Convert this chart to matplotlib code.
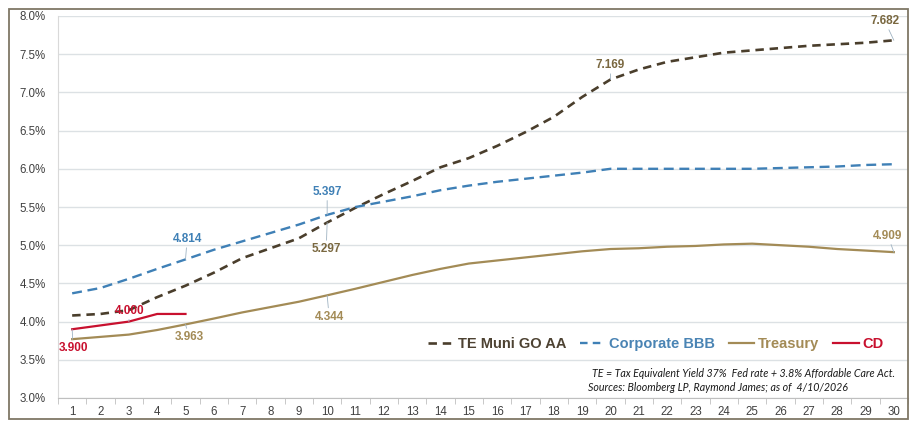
import numpy as np
import matplotlib.pyplot as plt
from matplotlib.patches import Rectangle
from matplotlib.lines import Line2D
from matplotlib.ticker import FuncFormatter

# maturity in years (categorical axis 1..30)
years = list(range(1, 31))

muni = [4.08, 4.10, 4.15, 4.32, 4.47, 4.64, 4.83, 4.96, 5.09, 5.297,
        5.49, 5.67, 5.84, 6.02, 6.14, 6.30, 6.48, 6.68, 6.94, 7.169,
        7.30, 7.40, 7.46, 7.52, 7.55, 7.58, 7.61, 7.63, 7.65, 7.682]
corp = [4.37, 4.44, 4.56, 4.69, 4.814, 4.94, 5.05, 5.16, 5.27, 5.397,
        5.50, 5.57, 5.64, 5.72, 5.78, 5.83, 5.87, 5.91, 5.95, 6.00,
        6.00, 6.00, 6.00, 6.00, 6.00, 6.01, 6.02, 6.03, 6.05, 6.06]
treas = [3.77, 3.80, 3.83, 3.89, 3.963, 4.04, 4.12, 4.19, 4.26, 4.344,
         4.43, 4.52, 4.61, 4.69, 4.76, 4.80, 4.84, 4.88, 4.92, 4.95,
         4.96, 4.98, 4.99, 5.01, 5.02, 5.00, 4.98, 4.95, 4.93, 4.909]
cd_years = [1, 2, 3, 4, 5]
cd = [3.90, 3.95, 4.00, 4.10, 4.10]

c_muni = '#4A3E2C'
c_muni_lbl = '#7A6840'
c_corp = '#3F80B6'
c_treas = '#A38B56'
c_cd = '#C8102E'

plt.rcParams['font.family'] = ['Liberation Sans', 'DejaVu Sans']

fig = plt.figure(figsize=(9.17, 4.30), dpi=100)
ax = fig.add_axes([58/917, 1-398/430, 850/917, 382/430])

ax.plot(years, muni, color=c_muni, lw=1.9, dashes=(3.2, 2.2))
ax.plot(years, corp, color=c_corp, lw=1.7, dashes=(4.2, 2.4))
ax.plot(years, treas, color=c_treas, lw=1.6)
ax.plot(cd_years, cd, color=c_cd, lw=1.6)

ax.set_xlim(0.5, 30.5)
ax.set_ylim(3.0, 8.0)
ax.set_yticks(np.arange(3.0, 8.01, 0.5))
ax.yaxis.set_major_formatter(FuncFormatter(lambda v, p: '{:.1f}%'.format(v)))
ax.set_xticks(years)
ax.set_xticks(np.arange(0.5, 31, 1), minor=True)
ax.tick_params(axis='x', which='major', length=0, pad=6, labelsize=8.3, labelcolor='#404040')
ax.tick_params(axis='x', which='minor', length=4, color='#BFBFBF', direction='out')
ax.tick_params(axis='y', length=0, pad=9, labelsize=8.3, labelcolor='#404040')
ax.grid(axis='y', color='#DCE1E4', lw=1)
ax.set_axisbelow(True)
for s in ['top', 'right']:
    ax.spines[s].set_visible(False)
ax.spines['left'].set_color('#D9D9D9')
ax.spines['bottom'].set_color('#BFBFBF')

# data labels with leader lines
leader = dict(arrowstyle='-', color='#9FB3C2', lw=0.6, shrinkA=0, shrinkB=0)
labels = [
    (1, 3.900, '3.900', c_cd, (0.7, -13.7)),
    (3, 4.000, '4.000', c_cd, (0.7, 7.9)),
    (5, 3.963, '3.963', c_treas, (2.6, -9.1)),
    (5, 4.814, '4.814', c_corp, (1.2, 14.7)),
    (10, 4.344, '4.344', c_treas, (1.4, -15.3)),
    (10, 5.297, '5.297', c_muni_lbl, (-0.7, -19.1)),
    (10, 5.397, '5.397', c_corp, (0, 16.6)),
    (20, 7.169, '7.169', c_muni_lbl, (0, 10.4)),
    (30, 7.682, '7.682', c_muni_lbl, (-6.5, 13.9)),
    (30, 4.909, '4.909', c_treas, (-4.3, 11.8)),
]
for x, y, t, c, off in labels:
    ax.annotate(t, xy=(x, y), xytext=off, textcoords='offset points',
                ha='center', va='center', fontsize=8.5, fontweight='bold',
                color=c, arrowprops=leader)

handles = [
    Line2D([], [], color=c_muni, lw=1.9, dashes=(3.2, 2.2)),
    Line2D([], [], color=c_corp, lw=1.7, dashes=(3.2, 2.2)),
    Line2D([], [], color=c_treas, lw=1.6),
    Line2D([], [], color=c_cd, lw=1.6),
]
names = ['TE Muni GO AA', 'Corporate BBB', 'Treasury', 'CD']
leg = ax.legend(handles, names, ncol=4, frameon=False, loc='center',
                bbox_to_anchor=(0.7035, 0.141), handlelength=1.75,
                handletextpad=0.25, columnspacing=0.95,
                prop={'size': 10.5, 'weight': 'bold'},
                labelcolor=['#4D4232', '#4A84B4', c_treas, c_cd])

ax.text(0.985, 0.065, 'TE = Tax Equivalent Yield 37%  Fed rate + 3.8% Affordable Care Act.',
        transform=ax.transAxes, ha='right', va='center', fontsize=7.7,
        style='italic', color='#1A1A1A', family=['Lato', 'DejaVu Sans'])
ax.text(0.624, 0.028, 'Sources: Bloomberg LP, Raymond James; as of  4/10/2026',
        transform=ax.transAxes, ha='left', va='center', fontsize=7.7,
        style='italic', color='#1A1A1A', family=['Lato', 'DejaVu Sans'])

# outer border around the chart
fig.patches.append(Rectangle((9/917, 1-419/430), 899/917, 410/430,
                             transform=fig.transFigure, fill=False,
                             edgecolor='#7F7766', lw=1.3))

fig.savefig('out.png', dpi=100)
